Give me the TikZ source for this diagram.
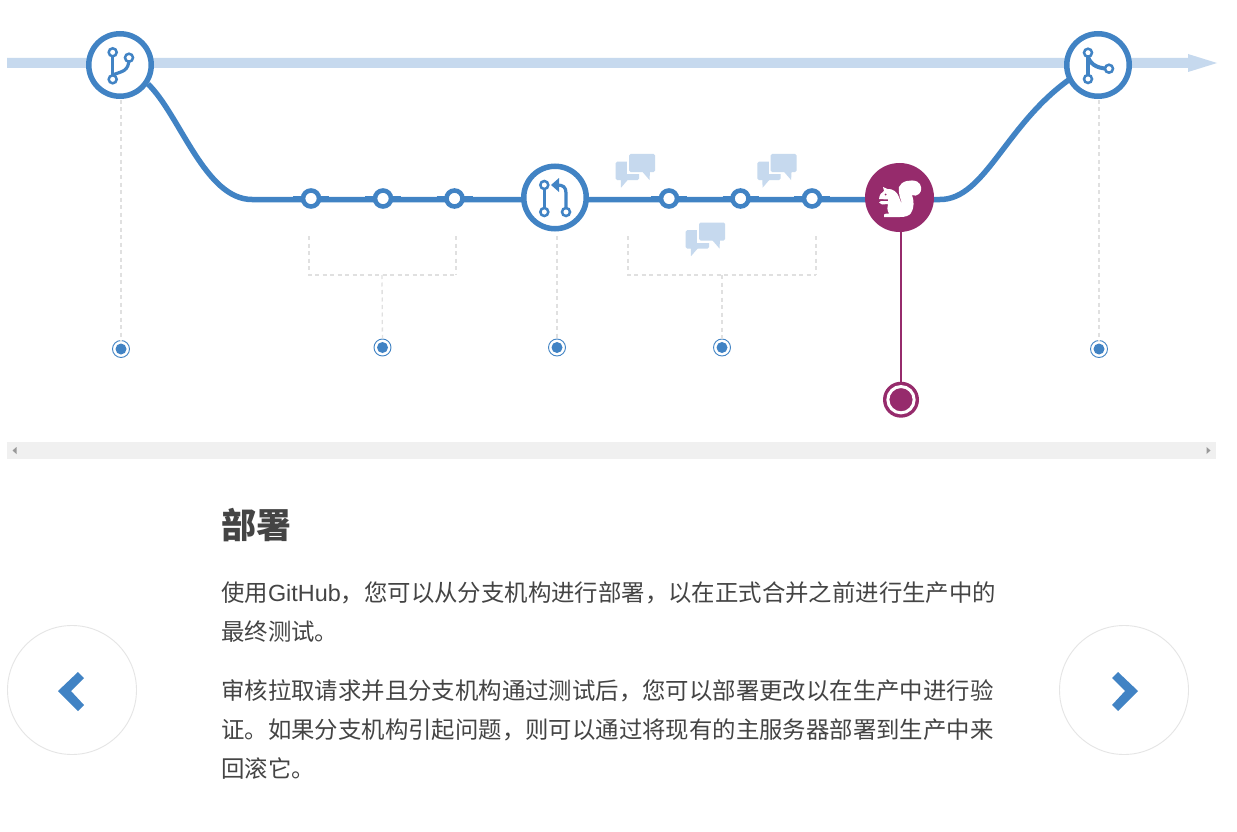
\documentclass[tikz,border=0pt]{standalone}
\usepackage{fontspec}
\setmainfont{Liberation Sans}
\newfontfamily\cjk{Noto Sans CJK SC}
\definecolor{gblue}{HTML}{4183C4}
\definecolor{lblue}{HTML}{C6D9EE}
\definecolor{gpurple}{HTML}{962B6C}
\definecolor{gdash}{HTML}{E0E0E0}
\definecolor{gtext}{HTML}{444444}
\tikzset{
 flow/.style={draw=gblue,line width=5.5pt},
 stub/.style={draw=gblue,line width=5pt},
 bigc/.style={circle,draw=gblue,line width=5.5pt,fill=white,minimum size=62.5pt,inner sep=0pt},
 smallc/.style={circle,draw=gblue,line width=4.6pt,fill=white,minimum size=16pt,inner sep=0pt},
 iconc/.style={circle,draw=gblue,line width=2.5pt,fill=white,minimum size=8pt,inner sep=0pt},
 iconl/.style={draw=gblue,line width=3.2pt},
 guide/.style={draw=gdash,line width=1.3pt,dash pattern=on 4pt off 3.5pt},
 dotc/.style={circle,draw=gblue,line width=.9pt,fill=white,minimum size=17pt,inner sep=0pt},
 dotin/.style={circle,fill=gblue,minimum size=11pt,inner sep=0pt},
 navc/.style={circle,draw=black!10,line width=.9pt,fill=white,minimum size=129pt,inner sep=0pt},
 bodyt/.style={anchor=base west,inner sep=0pt,text=gtext,font=\fontsize{23.4}{24}\cjk},
 titlet/.style={anchor=base west,inner sep=0pt,text=gtext,font=\fontsize{35}{35}\cjk\bfseries},
}
\newcommand{\lat}[1]{{\rmfamily #1}}
\newcommand{\chaticon}[2]{%
 \begin{scope}[shift={(#1,#2)}]
  \fill[lblue,rounded corners=1.5pt] (615.7,161.7) rectangle (639,180);
  \fill[lblue] (620.7,179) -- (621,187.7) -- (628.5,179) -- cycle;
  \fill[white] (627,152) rectangle (657,174);
  \fill[white] (640,172) -- (651.5,184) -- (651.5,172) -- cycle;
  \fill[lblue,rounded corners=1.5pt] (629,154) rectangle (655,172);
  \fill[lblue] (641.7,171) -- (649.5,180) -- (650,171) -- cycle;
 \end{scope}}
\begin{document}
\begin{tikzpicture}[x=1pt,y=-1pt]
\useasboundingbox[fill=white] (0,0) rectangle (1237,832);
% main trunk
\coordinate (trunkL) at (7,63);
\coordinate (trunkR) at (1188,63);
\fill[lblue] (trunkL)++(0,-5) -- (1188,58) -- (1188,54) -- (1217,63) -- (1188,72) -- (1188,68) -- (7,68) -- cycle;
% guides
\coordinate (g1) at (121,100); \coordinate (g6) at (1099,100);
\coordinate (g3) at (557,236);
\coordinate (b1a) at (309,236); \coordinate (b1b) at (309,275); \coordinate (b1c) at (456,275); \coordinate (b1d) at (456,236);
\coordinate (b1m) at (382,275);
\coordinate (b2a) at (628,236); \coordinate (b2b) at (628,275); \coordinate (b2c) at (816,275); \coordinate (b2d) at (816,236);
\coordinate (b2m) at (722,275);
\node[dotc] (d1) at (121,349) {};
\node[dotc] (d2) at (382.5,347.5) {};
\node[dotc] (d3) at (557,347.5) {};
\node[dotc] (d4) at (722,347.5) {};
\node[dotc] (d6) at (1099,349) {};
\foreach \n in {d1,d2,d3,d4,d6} \node[dotin] at (\n) {};
\draw[guide] (g1) -- (d1);
\draw[guide] (g6) -- (d6);
\draw[guide] (g3) -- (d3);
\draw[guide] (b1a) -- (b1b) -- (b1c);
\draw[guide] (b1d) -- (b1c);
\draw[guide] (b1m) -- (d2);
\draw[guide] (b2a) -- (b2b) -- (b2c);
\draw[guide] (b2d) -- (b2c);
\draw[guide] (b2m) -- (d4);
% flow line
\coordinate (cL) at (148,84); \coordinate (cR) at (1070,79);
\coordinate (fL) at (252,199.5); \coordinate (fR) at (940,199.5);
\draw[flow] (cL) .. controls (180,115) and (205,199.5) .. (fL) -- (fR) .. controls (985,199.5) and (1005,125) .. (cR);
% small nodes with stubs
\foreach \n/\x in {s1/311,s2/383,s3/454.5,s4/669,s5/740.5,s6/812}{
  \draw[stub] (\x-18,198) -- (\x+18,198);
  \node[smallc] (\n) at (\x,198.5) {};
}
% big nodes
\node[bigc] (branch) at (120,65) {};
\node[bigc] (merge) at (1098,65) {};
\node[bigc] (pr) at (555,197.5) {};
\node[circle,fill=gpurple,minimum size=69pt,inner sep=0pt] (deploy) at (899.5,197.5) {};
% branch icon
\draw[iconl] (112.7,52) -- (112.7,80);
\draw[iconl] (129,58) .. controls (129,72) and (122,71) .. (112.7,75);
\node[iconc] (bi1) at (112.7,52.3) {};
\node[iconc] (bi2) at (129,57.7) {};
\node[iconc] (bi3) at (112.7,79.3) {};
% merge icon
\draw[iconl] (1088,53) -- (1088,79);
\draw[iconl,line width=4pt] (1088,57) .. controls (1091,66) and (1100,68.7) .. (1109,68.7);
\node[iconc] (mi1) at (1088,52.7) {};
\node[iconc] (mi2) at (1088,79) {};
\node[iconc] (mi3) at (1109,68.7) {};
% PR icon
\draw[iconl] (544.3,185) -- (544.3,212);
\draw[iconl] (566,212) -- (566,193) .. controls (566,187) and (563,185) .. (557,185);
\fill[gblue] (551,185) -- (559,178) -- (559,192) -- cycle;
\node[iconc] (pi1) at (544.3,185) {};
\node[iconc] (pi2) at (544.3,212) {};
\node[iconc] (pi3) at (566,212) {};
% squirrel
\fill[white] (879,199) .. controls (879.5,195) and (881,192.5) .. (884,191) -- (883,187) -- (887.5,189)
 .. controls (893,188.5) and (897,192) .. (899,197) .. controls (900,200) and (901,203) .. (902.5,205)
 .. controls (900,198) and (898,192) .. (899,187) .. controls (901,181) and (911,179) .. (917,181.5)
 .. controls (922,184) and (922.5,191) .. (919,194) .. controls (917,196) and (914,196) .. (912,195)
 .. controls (914,200) and (914.5,208) .. (911,213) .. controls (909,216) and (905,217) .. (900,217)
 -- (884,217) -- (884,214.5) .. controls (885,213.5) and (887,213.5) .. (889,213.5)
 .. controls (887,210) and (887,207) .. (888,204) -- (882,204.5) -- (879,202.5) -- (881,201) -- (888,201) -- (888,199.5) -- cycle;
\fill[gpurple] (885.5,194.5) circle (1pt);
% chat icons
\chaticon{0}{0}
\chaticon{141.6}{0}
\chaticon{70}{68.5}
% deploy connector
\node[circle,fill=gpurple,minimum size=36pt,inner sep=0pt] (env) at (901,399.7) {};
\node[circle,draw=white,line width=3pt,fill=gpurple,minimum size=26.3pt,inner sep=0pt] at (env) {};
\coordinate (deployFoot) at (901,231);
\draw[gpurple,line width=1.4pt] (deployFoot) -- (env);
% scrollbar
\fill[black!6] (7,442) rectangle (1216,459);
\fill[black!40] (12.5,450.5) -- (16.5,447) -- (16.5,454) -- cycle;
\fill[black!40] (1210.5,450.5) -- (1206.5,447) -- (1206.5,454) -- cycle;
% nav
\node[navc] (prev) at (72,690) {};
\node[navc] (next) at (1124,690) {};
\fill[gblue] (58,691) -- (78,672) -- (84,678) -- (71,691) -- (84,705) -- (78,711) -- cycle;
\fill[gblue] (1138,691) -- (1118,672) -- (1112,678) -- (1125,691) -- (1112,705) -- (1118,711) -- cycle;
% text
\node[titlet] (title) at (221,538) {部署};
\node[bodyt] (l1) at (221,601) {使用\lat{GitHub}，您可以从分支机构进行部署，以在正式合并之前进行生产中的};
\node[bodyt] (l2) at (221,640) {最终测试。};
\node[bodyt] (l3) at (221,699) {审核拉取请求并且分支机构通过测试后，您可以部署更改以在生产中进行验};
\node[bodyt] (l4) at (221,738) {证。如果分支机构引起问题，则可以通过将现有的主服务器部署到生产中来};
\node[bodyt] (l5) at (221,777) {回滚它。};
\end{tikzpicture}
\end{document}
